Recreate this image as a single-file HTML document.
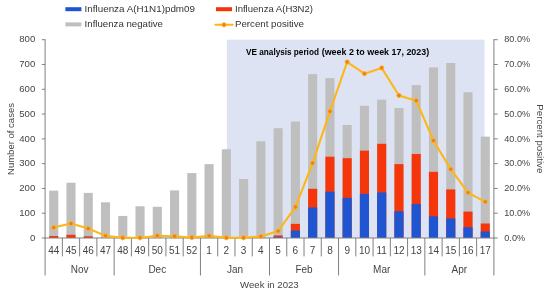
<!DOCTYPE html>
<html><head><meta charset="utf-8"><title>Chart</title>
<style>html,body{margin:0;padding:0;background:#fff}svg{display:block}text{font-family:"Liberation Sans",sans-serif}</style></head><body>
<svg width="550" height="294" viewBox="0 0 550 294">
<rect width="550" height="294" fill="#fff"/>
<rect x="226.9" y="39.7" width="257.7" height="198.3" fill="#dde3f3"/>
<rect x="49.18" y="190.66" width="9.10" height="47.34" fill="#bfbfbf"/>
<rect x="49.18" y="236.02" width="9.10" height="1.98" fill="#f5360a"/>
<rect x="66.44" y="182.72" width="9.10" height="55.28" fill="#bfbfbf"/>
<rect x="66.44" y="234.78" width="9.10" height="3.22" fill="#f5360a"/>
<rect x="83.70" y="192.89" width="9.10" height="45.11" fill="#bfbfbf"/>
<rect x="83.70" y="236.26" width="9.10" height="1.74" fill="#f5360a"/>
<rect x="100.97" y="202.31" width="9.10" height="35.69" fill="#bfbfbf"/>
<rect x="118.23" y="215.94" width="9.10" height="22.06" fill="#bfbfbf"/>
<rect x="135.49" y="206.27" width="9.10" height="31.73" fill="#bfbfbf"/>
<rect x="152.75" y="206.77" width="9.10" height="31.23" fill="#bfbfbf"/>
<rect x="170.01" y="190.41" width="9.10" height="47.59" fill="#bfbfbf"/>
<rect x="187.27" y="173.06" width="9.10" height="64.94" fill="#bfbfbf"/>
<rect x="204.53" y="164.13" width="9.10" height="73.87" fill="#bfbfbf"/>
<rect x="221.80" y="149.26" width="9.10" height="88.74" fill="#bfbfbf"/>
<rect x="239.06" y="179.01" width="9.10" height="58.99" fill="#bfbfbf"/>
<rect x="256.32" y="141.33" width="9.10" height="96.67" fill="#bfbfbf"/>
<rect x="273.58" y="128.19" width="9.10" height="109.81" fill="#bfbfbf"/>
<rect x="273.58" y="235.40" width="9.10" height="2.60" fill="#f5360a"/>
<rect x="273.58" y="236.88" width="9.10" height="1.12" fill="#1f55d0"/>
<rect x="290.84" y="121.50" width="9.10" height="116.50" fill="#bfbfbf"/>
<rect x="290.84" y="223.87" width="9.10" height="14.13" fill="#f5360a"/>
<rect x="290.84" y="230.56" width="9.10" height="7.44" fill="#1f55d0"/>
<rect x="308.10" y="74.15" width="9.10" height="163.85" fill="#bfbfbf"/>
<rect x="308.10" y="188.80" width="9.10" height="49.20" fill="#f5360a"/>
<rect x="308.10" y="207.51" width="9.10" height="30.49" fill="#1f55d0"/>
<rect x="325.37" y="78.12" width="9.10" height="159.88" fill="#bfbfbf"/>
<rect x="325.37" y="156.70" width="9.10" height="81.30" fill="#f5360a"/>
<rect x="325.37" y="191.65" width="9.10" height="46.35" fill="#1f55d0"/>
<rect x="342.63" y="124.97" width="9.10" height="113.03" fill="#bfbfbf"/>
<rect x="342.63" y="158.18" width="9.10" height="79.82" fill="#f5360a"/>
<rect x="342.63" y="197.84" width="9.10" height="40.16" fill="#1f55d0"/>
<rect x="359.89" y="105.88" width="9.10" height="132.12" fill="#bfbfbf"/>
<rect x="359.89" y="150.62" width="9.10" height="87.38" fill="#f5360a"/>
<rect x="359.89" y="193.88" width="9.10" height="44.12" fill="#1f55d0"/>
<rect x="377.15" y="99.69" width="9.10" height="138.31" fill="#bfbfbf"/>
<rect x="377.15" y="143.81" width="9.10" height="94.19" fill="#f5360a"/>
<rect x="377.15" y="192.39" width="9.10" height="45.61" fill="#1f55d0"/>
<rect x="394.41" y="108.11" width="9.10" height="129.89" fill="#bfbfbf"/>
<rect x="394.41" y="164.13" width="9.10" height="73.87" fill="#f5360a"/>
<rect x="394.41" y="211.23" width="9.10" height="26.77" fill="#1f55d0"/>
<rect x="411.67" y="85.06" width="9.10" height="152.94" fill="#bfbfbf"/>
<rect x="411.67" y="153.97" width="9.10" height="84.03" fill="#f5360a"/>
<rect x="411.67" y="204.04" width="9.10" height="33.96" fill="#1f55d0"/>
<rect x="428.93" y="67.46" width="9.10" height="170.54" fill="#bfbfbf"/>
<rect x="428.93" y="171.82" width="9.10" height="66.18" fill="#f5360a"/>
<rect x="428.93" y="216.31" width="9.10" height="21.69" fill="#1f55d0"/>
<rect x="446.20" y="63.00" width="9.10" height="175.00" fill="#bfbfbf"/>
<rect x="446.20" y="189.42" width="9.10" height="48.58" fill="#f5360a"/>
<rect x="446.20" y="218.42" width="9.10" height="19.58" fill="#1f55d0"/>
<rect x="463.46" y="92.25" width="9.10" height="145.75" fill="#bfbfbf"/>
<rect x="463.46" y="211.60" width="9.10" height="26.40" fill="#f5360a"/>
<rect x="463.46" y="227.34" width="9.10" height="10.66" fill="#1f55d0"/>
<rect x="480.72" y="136.62" width="9.10" height="101.38" fill="#bfbfbf"/>
<rect x="480.72" y="223.50" width="9.10" height="14.50" fill="#f5360a"/>
<rect x="480.72" y="231.56" width="9.10" height="6.44" fill="#1f55d0"/>
<g stroke="#808080" stroke-width="1" fill="none">
<path d="M45.1 39.2V238.5"/>
<path d="M493.9 39.2V238.5"/>
<path d="M44.6 238.0H494.4"/>
<path d="M41.9 238.00H45.1M493.9 238.00H497.7M41.9 213.21H45.1M493.9 213.21H497.7M41.9 188.43H45.1M493.9 188.43H497.7M41.9 163.64H45.1M493.9 163.64H497.7M41.9 138.85H45.1M493.9 138.85H497.7M41.9 114.06H45.1M493.9 114.06H497.7M41.9 89.27H45.1M493.9 89.27H497.7M41.9 64.49H45.1M493.9 64.49H497.7M41.9 39.70H45.1M493.9 39.70H497.7"/>
<path d="M45.10 238.0V275.5M62.36 238.0V256.4M79.62 238.0V256.4M96.88 238.0V256.4M114.15 238.0V275.5M131.41 238.0V256.4M148.67 238.0V256.4M165.93 238.0V256.4M183.19 238.0V256.4M200.45 238.0V275.5M217.72 238.0V256.4M234.98 238.0V256.4M252.24 238.0V256.4M269.50 238.0V275.5M286.76 238.0V256.4M304.02 238.0V256.4M321.28 238.0V256.4M338.55 238.0V275.5M355.81 238.0V256.4M373.07 238.0V256.4M390.33 238.0V256.4M407.59 238.0V256.4M424.85 238.0V275.5M442.12 238.0V256.4M459.38 238.0V256.4M476.64 238.0V256.4M493.90 238.0V275.5"/>
</g>
<polyline fill="none" stroke="#fdb714" stroke-width="2.1" stroke-linejoin="round" stroke-linecap="round" points="53.73,227.59 70.99,223.50 88.25,228.58 105.52,235.89 122.78,237.75 140.04,237.75 157.30,235.77 174.56,236.26 191.82,237.50 209.08,235.89 226.35,237.75 243.61,237.75 260.87,236.39 278.13,231.06 295.39,207.02 312.65,163.14 329.92,111.34 347.18,62.01 364.44,73.66 381.70,67.96 398.96,95.47 416.22,100.68 433.48,140.59 450.75,169.21 468.01,192.64 485.27,201.81"/>
<circle cx="53.73" cy="227.59" r="2.15" fill="#ee7a2c" stroke="#fdb714" stroke-width="0.9"/>
<circle cx="70.99" cy="223.50" r="2.15" fill="#ee7a2c" stroke="#fdb714" stroke-width="0.9"/>
<circle cx="88.25" cy="228.58" r="2.15" fill="#ee7a2c" stroke="#fdb714" stroke-width="0.9"/>
<circle cx="105.52" cy="235.89" r="2.15" fill="#ee7a2c" stroke="#fdb714" stroke-width="0.9"/>
<circle cx="122.78" cy="237.75" r="2.15" fill="#ee7a2c" stroke="#fdb714" stroke-width="0.9"/>
<circle cx="140.04" cy="237.75" r="2.15" fill="#ee7a2c" stroke="#fdb714" stroke-width="0.9"/>
<circle cx="157.30" cy="235.77" r="2.15" fill="#ee7a2c" stroke="#fdb714" stroke-width="0.9"/>
<circle cx="174.56" cy="236.26" r="2.15" fill="#ee7a2c" stroke="#fdb714" stroke-width="0.9"/>
<circle cx="191.82" cy="237.50" r="2.15" fill="#ee7a2c" stroke="#fdb714" stroke-width="0.9"/>
<circle cx="209.08" cy="235.89" r="2.15" fill="#ee7a2c" stroke="#fdb714" stroke-width="0.9"/>
<circle cx="226.35" cy="237.75" r="2.15" fill="#ee7a2c" stroke="#fdb714" stroke-width="0.9"/>
<circle cx="243.61" cy="237.75" r="2.15" fill="#ee7a2c" stroke="#fdb714" stroke-width="0.9"/>
<circle cx="260.87" cy="236.39" r="2.15" fill="#ee7a2c" stroke="#fdb714" stroke-width="0.9"/>
<circle cx="278.13" cy="231.06" r="2.15" fill="#ee7a2c" stroke="#fdb714" stroke-width="0.9"/>
<circle cx="295.39" cy="207.02" r="2.15" fill="#ee7a2c" stroke="#fdb714" stroke-width="0.9"/>
<circle cx="312.65" cy="163.14" r="2.15" fill="#ee7a2c" stroke="#fdb714" stroke-width="0.9"/>
<circle cx="329.92" cy="111.34" r="2.15" fill="#ee7a2c" stroke="#fdb714" stroke-width="0.9"/>
<circle cx="347.18" cy="62.01" r="2.15" fill="#ee7a2c" stroke="#fdb714" stroke-width="0.9"/>
<circle cx="364.44" cy="73.66" r="2.15" fill="#ee7a2c" stroke="#fdb714" stroke-width="0.9"/>
<circle cx="381.70" cy="67.96" r="2.15" fill="#ee7a2c" stroke="#fdb714" stroke-width="0.9"/>
<circle cx="398.96" cy="95.47" r="2.15" fill="#ee7a2c" stroke="#fdb714" stroke-width="0.9"/>
<circle cx="416.22" cy="100.68" r="2.15" fill="#ee7a2c" stroke="#fdb714" stroke-width="0.9"/>
<circle cx="433.48" cy="140.59" r="2.15" fill="#ee7a2c" stroke="#fdb714" stroke-width="0.9"/>
<circle cx="450.75" cy="169.21" r="2.15" fill="#ee7a2c" stroke="#fdb714" stroke-width="0.9"/>
<circle cx="468.01" cy="192.64" r="2.15" fill="#ee7a2c" stroke="#fdb714" stroke-width="0.9"/>
<circle cx="485.27" cy="201.81" r="2.15" fill="#ee7a2c" stroke="#fdb714" stroke-width="0.9"/>
<text x="35.3" y="240.7" font-size="9.6" fill="#454545" text-anchor="end">0</text>
<text x="504.3" y="240.7" font-size="9.1" fill="#454545">0.0%</text>
<text x="35.3" y="215.9" font-size="9.6" fill="#454545" text-anchor="end">100</text>
<text x="504.3" y="215.9" font-size="9.1" fill="#454545">10.0%</text>
<text x="35.3" y="191.1" font-size="9.6" fill="#454545" text-anchor="end">200</text>
<text x="504.3" y="191.1" font-size="9.1" fill="#454545">20.0%</text>
<text x="35.3" y="166.3" font-size="9.6" fill="#454545" text-anchor="end">300</text>
<text x="504.3" y="166.3" font-size="9.1" fill="#454545">30.0%</text>
<text x="35.3" y="141.5" font-size="9.6" fill="#454545" text-anchor="end">400</text>
<text x="504.3" y="141.5" font-size="9.1" fill="#454545">40.0%</text>
<text x="35.3" y="116.8" font-size="9.6" fill="#454545" text-anchor="end">500</text>
<text x="504.3" y="116.8" font-size="9.1" fill="#454545">50.0%</text>
<text x="35.3" y="92.0" font-size="9.6" fill="#454545" text-anchor="end">600</text>
<text x="504.3" y="92.0" font-size="9.1" fill="#454545">60.0%</text>
<text x="35.3" y="67.2" font-size="9.6" fill="#454545" text-anchor="end">700</text>
<text x="504.3" y="67.2" font-size="9.1" fill="#454545">70.0%</text>
<text x="35.3" y="42.4" font-size="9.6" fill="#454545" text-anchor="end">800</text>
<text x="504.3" y="42.4" font-size="9.1" fill="#454545">80.0%</text>
<text x="53.73" y="254" font-size="10" fill="#454545" text-anchor="middle">44</text>
<text x="70.99" y="254" font-size="10" fill="#454545" text-anchor="middle">45</text>
<text x="88.25" y="254" font-size="10" fill="#454545" text-anchor="middle">46</text>
<text x="105.52" y="254" font-size="10" fill="#454545" text-anchor="middle">47</text>
<text x="122.78" y="254" font-size="10" fill="#454545" text-anchor="middle">48</text>
<text x="140.04" y="254" font-size="10" fill="#454545" text-anchor="middle">49</text>
<text x="157.30" y="254" font-size="10" fill="#454545" text-anchor="middle">50</text>
<text x="174.56" y="254" font-size="10" fill="#454545" text-anchor="middle">51</text>
<text x="191.82" y="254" font-size="10" fill="#454545" text-anchor="middle">52</text>
<text x="209.08" y="254" font-size="10" fill="#454545" text-anchor="middle">1</text>
<text x="226.35" y="254" font-size="10" fill="#454545" text-anchor="middle">2</text>
<text x="243.61" y="254" font-size="10" fill="#454545" text-anchor="middle">3</text>
<text x="260.87" y="254" font-size="10" fill="#454545" text-anchor="middle">4</text>
<text x="278.13" y="254" font-size="10" fill="#454545" text-anchor="middle">5</text>
<text x="295.39" y="254" font-size="10" fill="#454545" text-anchor="middle">6</text>
<text x="312.65" y="254" font-size="10" fill="#454545" text-anchor="middle">7</text>
<text x="329.92" y="254" font-size="10" fill="#454545" text-anchor="middle">8</text>
<text x="347.18" y="254" font-size="10" fill="#454545" text-anchor="middle">9</text>
<text x="364.44" y="254" font-size="10" fill="#454545" text-anchor="middle">10</text>
<text x="381.70" y="254" font-size="10" fill="#454545" text-anchor="middle">11</text>
<text x="398.96" y="254" font-size="10" fill="#454545" text-anchor="middle">12</text>
<text x="416.22" y="254" font-size="10" fill="#454545" text-anchor="middle">13</text>
<text x="433.48" y="254" font-size="10" fill="#454545" text-anchor="middle">14</text>
<text x="450.75" y="254" font-size="10" fill="#454545" text-anchor="middle">15</text>
<text x="468.01" y="254" font-size="10" fill="#454545" text-anchor="middle">16</text>
<text x="485.27" y="254" font-size="10" fill="#454545" text-anchor="middle">17</text>
<text x="79.62" y="273.2" font-size="10" fill="#454545" text-anchor="middle">Nov</text>
<text x="157.30" y="273.2" font-size="10" fill="#454545" text-anchor="middle">Dec</text>
<text x="234.98" y="273.2" font-size="10" fill="#454545" text-anchor="middle">Jan</text>
<text x="304.02" y="273.2" font-size="10" fill="#454545" text-anchor="middle">Feb</text>
<text x="381.70" y="273.2" font-size="10" fill="#454545" text-anchor="middle">Mar</text>
<text x="459.38" y="273.2" font-size="10" fill="#454545" text-anchor="middle">Apr</text>
<text x="269.4" y="287.6" font-size="9.8" fill="#454545" text-anchor="middle" textLength="58.6" lengthAdjust="spacingAndGlyphs">Week in 2023</text>
<text transform="translate(13.6 139) rotate(-90)" font-size="9.8" fill="#454545" text-anchor="middle" textLength="72" lengthAdjust="spacingAndGlyphs">Number of cases</text>
<text transform="translate(536.5 138.8) rotate(90)" font-size="9.8" fill="#454545" text-anchor="middle" textLength="69" lengthAdjust="spacingAndGlyphs">Percent positive</text>
<text y="54.5" font-size="9.6" font-weight="bold" fill="#000"><tspan x="246.1" textLength="72.8" lengthAdjust="spacingAndGlyphs">VE analysis period</tspan> <tspan x="321.7" textLength="107.5" lengthAdjust="spacingAndGlyphs">(week 2 to week 17, 2023)</tspan></text>
<rect x="65.4" y="7.2" width="16" height="4" fill="#1f55d0"/>
<text x="84.6" y="12.4" font-size="9.8" fill="#333333" textLength="110.4" lengthAdjust="spacingAndGlyphs">Influenza A(H1N1)pdm09</text>
<rect x="65.4" y="22.4" width="16" height="4" fill="#bfbfbf"/>
<text x="84.6" y="27.4" font-size="9.8" fill="#333333" textLength="78.4" lengthAdjust="spacingAndGlyphs">Influenza negative</text>
<rect x="216" y="7.2" width="16" height="4" fill="#f5360a"/>
<text x="235" y="12.4" font-size="9.8" fill="#333333" textLength="78" lengthAdjust="spacingAndGlyphs">Influenza A(H3N2)</text>
<path d="M215.4 24.8H232.6" stroke="#fdb714" stroke-width="2.1" stroke-linecap="round"/>
<circle cx="224" cy="24.8" r="2.15" fill="#ee7a2c" stroke="#fdb714" stroke-width="0.9"/>
<text x="235" y="27.4" font-size="9.8" fill="#333333" textLength="69" lengthAdjust="spacingAndGlyphs">Percent positive</text>
</svg></body></html>
